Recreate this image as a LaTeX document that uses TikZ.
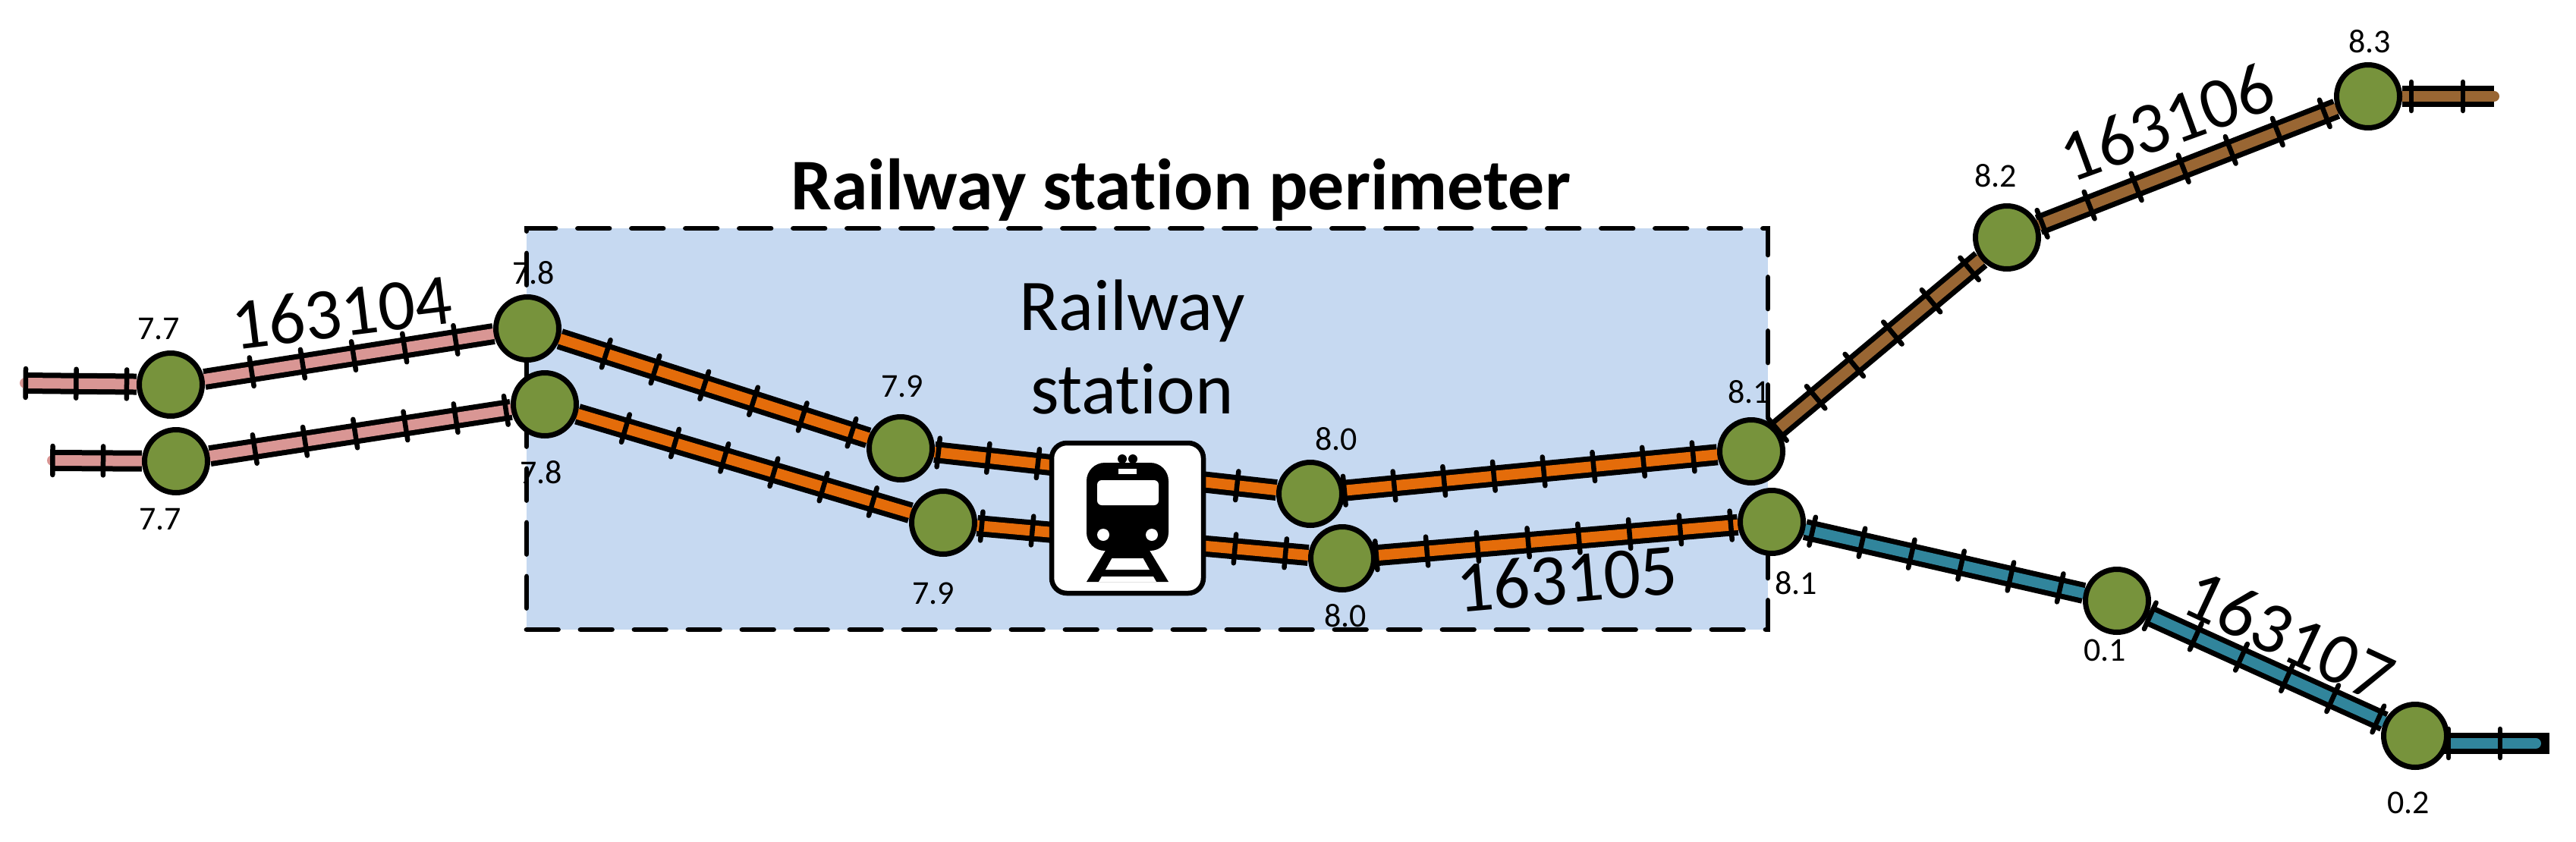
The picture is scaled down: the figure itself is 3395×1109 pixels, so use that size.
\documentclass[tikz,border=0pt]{standalone}
\usepackage{fontspec}
\setmainfont[Ligatures=NoCommon]{Carlito}
\usetikzlibrary{decorations.markings}
\pgfdeclarelayer{back}
\pgfdeclarelayer{tracks}
\pgfsetlayers{back,tracks,main}
\definecolor{pinkline}{HTML}{D99694}
\definecolor{orangeline}{HTML}{E46C0A}
\definecolor{brownline}{HTML}{996633}
\definecolor{tealline}{HTML}{31859C}
\definecolor{postgreen}{HTML}{77933C}
\definecolor{stationblue}{HTML}{C6D9F1}
\tikzstyle{kmpost} = [circle, 
			draw, 
			fill = postgreen, 
			line width = 3.5pt, 
			inner sep = 0pt, 
			minimum size = 41.5pt]
\tikzstyle{kmlabel} = [font = \fontsize{22}{24}\selectfont, 
			inner sep = 0pt]
\tikzstyle{linelabel} = [font = \fontsize{48}{50}\selectfont, 
			inner sep = 0pt]
\tikzstyle{perimeter} = [rectangle, 
			draw, 
			fill = stationblue, 
			line width = 3.4pt, 
			line cap = round, 
			dash pattern = on 20.75pt off 14.75pt, 
			inner sep = 0pt, 
			minimum width = 818pt, 
			minimum height = 264.5pt]
\tikzstyle{stationbox} = [rectangle, 
			draw, 
			fill = white, 
			rounded corners = 10pt, 
			line width = 3.25pt, 
			inner sep = 0pt, 
			minimum width = 100pt, 
			minimum height = 99pt]
\tikzstyle{tickmark} = [draw = black, 
			line width = 3.25pt, 
			line cap = round]
\tikzset{
	bandcut/.store in = \bandcut, 
	bandcut = 0pt, 
	track/.style n args = {3}{
		draw = black, 
		line width = 14pt, 
		postaction = {draw = #1, line width = 7pt, line cap = round, shorten > = \bandcut}, 
		postaction = {decorate, decoration = {markings, 
			mark = between positions #2 and 1 step #3 with {\draw [tickmark] (0pt,-9.5pt) -- (0pt,9.5pt);}}}
	}
}
\begin{document}
\begin{tikzpicture}[x=0.5pt, y=-0.5pt]
	\useasboundingbox (0,0) rectangle (3395,1109);
	\begin{pgfonlayer}{back}
		\node [perimeter] (perimeter) at (1512,565.5) {};
	\end{pgfonlayer}
	% kilometre posts
	\node [kmpost] (n77a) at (225,507) {};
	\node [kmpost] (n77b) at (232,608) {};
	\node [kmpost] (n78a) at (695,433) {};
	\node [kmpost] (n78b) at (718,533) {};
	\node [kmpost] (n79a) at (1187,591) {};
	\node [kmpost] (n79b) at (1243,689) {};
	\node [kmpost] (n80a) at (1727,651) {};
	\node [kmpost] (n80b) at (1769,736) {};
	\node [kmpost] (n81a) at (2308,595) {};
	\node [kmpost] (n81b) at (2335,688) {};
	\node [kmpost] (n82) at (2645,313) {};
	\node [kmpost] (n83) at (3121,127) {};
	\node [kmpost] (n01) at (2790,792) {};
	\node [kmpost] (n02) at (3183,970) {};
	\coordinate (enda) at (33,505);
	\coordinate (endb) at (69,607);
	\coordinate (endc) at (3287,127);
	\coordinate (endd) at (3360,980);
	\begin{pgfonlayer}{tracks}
		\draw [track={pinkline}{6.5pt}{33.3pt}] (n77a) -- (enda);
		\draw [track={pinkline}{25.5pt}{33.3pt}] (n77b) -- (endb);
		\draw [track={pinkline}{31.5pt}{34pt}] (n77a) -- (n78a);
		\draw [track={pinkline}{30pt}{33.5pt}] (n77b) -- (n78b);
		\draw [track={orangeline}{32pt}{34pt}] (n78a) -- (n79a);
		\draw [track={orangeline}{33pt}{34pt}] (n78b) -- (n79b);
		\draw [track={orangeline}{2.5pt}{33pt}] (n79a) -- (n80a);
		\draw [track={orangeline}{3pt}{33.5pt}] (n79b) -- (n80b);
		\draw [track={orangeline}{0pt}{33pt}] (n80a) -- (n81a);
		\draw [track={orangeline}{0pt}{33.5pt}] (n80b) -- (n81b);
		\draw [track={brownline}{0pt}{33pt}] (n81a) -- (n82);
		\draw [track={brownline}{2.5pt}{33.3pt}] (n82) -- (n83);
		\draw [track={brownline}{6pt}{34pt}] (n83) -- (endc);
		\draw [track={tealline}{5pt}{33.5pt}] (n81b) -- (n01);
		\draw [track={tealline}{1.5pt}{33pt}] (n01) -- (n02);
		\draw [bandcut=9pt, track={tealline}{22pt}{34pt}] (n02 |- endd) -- (endd);
	\end{pgfonlayer}
	% station sign
	\node [stationbox] (station) at (1486,683) {};
	\fill [rounded corners=12pt] (1432,610) rectangle (1540,726);
	\fill (1479,605) circle (3pt) (1493,605) circle (3pt);
	\fill [white] (1474,618) rectangle (1498,625);
	\fill [white, rounded corners=3pt] (1446,633) rectangle (1527,666);
	\fill [white] (1454,705) circle (4pt) (1518,705) circle (4pt);
	\fill (1458,724) -- (1514,724) -- (1540,767) -- (1432,767) -- cycle;
	\fill [white] (1465.4,736) -- (1506.6,736) -- (1515,751) -- (1457,751) -- cycle;
	\fill [white] (1452,760) -- (1520,760) -- (1524,767) -- (1448,767) -- cycle;
	% labels
	\node [font=\bfseries\fontsize{48}{50}\selectfont, inner sep=0pt] (title) at (1556,250) {Railway station perimeter};
	\node [font=\fontsize{48}{55}\selectfont, inner sep=0pt, align=center] (stationname) at (1492,458) {Railway\\station};
	\node [linelabel, rotate=7] (line104) at (450,412) {163104};
	\node [linelabel, rotate=5] (line105) at (2065,763) {163105};
	\node [linelabel, rotate=20] (line106) at (2856,161) {163106};
	\node [linelabel, rotate=-25] (line107) at (3017,838) {163107};
	\node [kmlabel] (l77a) at (209,434) {7.7};
	\node [kmlabel] (l77b) at (211,685) {7.7};
	\node [kmlabel] (l78a) at (703,360) {7.8};
	\node [kmlabel] (l78b) at (713,623) {7.8};
	\node [kmlabel] (l79a) at (1189,509) {7.9};
	\node [kmlabel] (l79b) at (1230,782) {7.9};
	\node [kmlabel] (l80a) at (1761,579) {8.0};
	\node [kmlabel] (l80b) at (1773,812) {8.0};
	\node [kmlabel] (l81a) at (2305,517) {8.1};
	\node [kmlabel] (l81b) at (2367,769) {8.1};
	\node [kmlabel] (l82) at (2630,232) {8.2};
	\node [kmlabel] (l83) at (3123,55) {8.3};
	\node [kmlabel] (l01) at (2774,857) {0.1};
	\node [kmlabel] (l02) at (3174,1058) {0.2};
\end{tikzpicture}
\end{document}
